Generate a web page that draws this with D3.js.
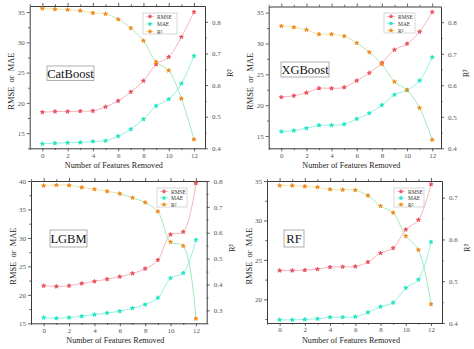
<!DOCTYPE html>
<html><head><meta charset="utf-8">
<script src="https://cdn.jsdelivr.net/npm/d3@7"></script>
<style>
body{margin:0;background:#fff}
svg{display:block}
</style>
</head><body><svg id="c" width="474" height="349"></svg>
<script>
// ---------------- data ----------------
const featuresRemoved = [0,1,2,3,4,5,6,7,8,9,10,11,12];
const xTicks = [0,2,4,6,8,10,12];
const seriesNames = ["RMSE","MAE","R²"];
const modelNames = ["CatBoost","XGBoost","LGBM","RF"];

const catboostRMSE = [18.46,18.57,18.57,18.63,18.68,19.34,20.33,21.81,23.63,26.37,27.58,30.88,35.00];
const catboostMAE  = [13.24,13.35,13.40,13.46,13.63,13.74,14.50,15.66,17.31,19.50,20.60,23.19,27.75];
const catboostR2   = [0.842,0.840,0.838,0.835,0.828,0.825,0.808,0.780,0.740,0.673,0.646,0.557,0.428];

const xgboostRMSE = [21.30,21.52,22.01,22.72,22.72,22.88,23.97,25.22,26.85,28.97,29.95,31.90,35.10];
const xgboostMAE  = [15.71,15.87,16.25,16.74,16.74,16.90,17.77,18.70,20.00,21.68,22.45,23.97,27.77];
const xgboostR2   = [0.788,0.784,0.776,0.762,0.762,0.756,0.734,0.705,0.667,0.611,0.585,0.528,0.427];

const lgbmRMSE = [21.59,21.47,21.59,22.00,22.35,22.76,23.18,23.76,24.59,26.12,30.59,31.06,39.60];
const lgbmMAE  = [16.00,15.88,16.00,16.24,16.53,16.82,17.12,17.65,18.29,19.47,22.94,23.82,29.65];
const lgbmR2   = [0.782,0.784,0.783,0.775,0.768,0.760,0.751,0.735,0.717,0.682,0.564,0.549,0.268];

const rfRMSE = [23.65,23.65,23.70,23.82,24.08,24.12,24.16,24.72,25.86,26.50,28.84,30.07,34.58];
const rfMAE  = [17.40,17.40,17.45,17.53,17.74,17.74,17.79,18.34,19.06,19.57,21.44,22.50,27.27];
const rfR2   = [0.729,0.729,0.727,0.725,0.720,0.719,0.718,0.705,0.680,0.664,0.608,0.575,0.445];

const catboostLeftTicks = [15,20,25,30,35];
const xgboostLeftTicks  = [15,20,25,30,35];
const lgbmLeftTicks     = [15,20,25,30,35,40];
const rfLeftTicks       = [20,25,30,35];
const catboostRightTicks = [0.4,0.5,0.6,0.7,0.8];
const xgboostRightTicks  = [0.4,0.5,0.6,0.7,0.8];
const lgbmRightTicks     = [0.3,0.4,0.5,0.6,0.7,0.8];
const rfRightTicks       = [0.4,0.5,0.6,0.7];

// ---------------- layout / style ----------------
const FONT = "'Liberation Serif', 'Times New Roman', 'DejaVu Serif', serif";
const panels = [
  {name:modelNames[0], rmse:catboostRMSE, mae:catboostMAE, r2:catboostR2, lt:catboostLeftTicks, rt:catboostRightTicks,
   x:29.7, y:6, w:175.3, h:142.3, xd:[-1,12.87], yl:[12.5,36], yr:[0.4,0.85],
   label:{x:47,y:66,w:47,h:14.5}, legend:{x:143,y:13,w:34,h:21}},
  {name:modelNames[1], rmse:xgboostRMSE, mae:xgboostMAE, r2:xgboostR2, lt:xgboostLeftTicks, rt:xgboostRightTicks,
   x:268.7, y:6.5, w:172.3, h:141.8, xd:[-1,12.7], yl:[13,36], yr:[0.4,0.85],
   label:{x:281,y:62,w:48,h:15}, legend:{x:384,y:13,w:31,h:20}},
  {name:modelNames[2], rmse:lgbmRMSE, mae:lgbmMAE, r2:lgbmR2, lt:lgbmLeftTicks, rt:lgbmRightTicks,
   x:31, y:181, w:175.7, h:142.3, xd:[-1,12.85], yl:[15,40], yr:[0.25,0.8],
   label:{x:50,y:230,w:37,h:17}, legend:{x:157,y:188,w:30,h:19}},
  {name:modelNames[3], rmse:rfRMSE, mae:rfMAE, r2:rfR2, lt:rfLeftTicks, rt:rfRightTicks,
   x:267, y:181, w:175, h:142, xd:[-1,12.87], yl:[17,35], yr:[0.4,0.74],
   label:{x:284,y:230,w:20,h:17}, legend:{x:394,y:188,w:30,h:19}}
];

const markerColors = ["#e8505e","#1fe6c3","#f08a1e"];
const lineColors = ["#f7a9b0","#86efdc","#f2d98a"];
const axisColor = "#3a3a3a";
const tickTextColor = "#555";

const svg = d3.select("#c");
const defs = svg.append("defs");

// scale a text's font size so that its rendered width equals the target width
function fitText(sel, baseSize, targetWidth) {
  sel.attr("font-size", baseSize);
  const w = sel.node().getComputedTextLength();
  if (w > 0) sel.attr("font-size", baseSize * targetWidth / w);
  return sel;
}

panels.forEach((p, pi) => {
  const g = svg.append("g").attr("font-family", FONT);
  const x = d3.scaleLinear().domain(p.xd).range([p.x, p.x + p.w]);
  const yL = d3.scaleLinear().domain(p.yl).range([p.y + p.h, p.y]);
  const yR = d3.scaleLinear().domain(p.yr).range([p.y + p.h, p.y]);
  const bottom = p.y + p.h, right = p.x + p.w;

  const gid = "r2grad" + pi;
  const grad = defs.append("linearGradient").attr("id", gid)
    .attr("gradientUnits","userSpaceOnUse")
    .attr("x1", x(0)).attr("x2", x(12)).attr("y1",0).attr("y2",0);
  grad.append("stop").attr("offset","0").attr("stop-color","#f9e08a");
  grad.append("stop").attr("offset","0.4").attr("stop-color","#ede39a");
  grad.append("stop").attr("offset","0.55").attr("stop-color","#a8e8a8");
  grad.append("stop").attr("offset","1").attr("stop-color","#8fe8b0");

  const styleAxis = sel => {
    sel.attr("font-family", FONT);
    sel.selectAll("path").attr("stroke", axisColor).attr("stroke-width", 1);
    sel.selectAll("line").attr("stroke", axisColor).attr("stroke-width", 0.8);
    sel.selectAll("text").attr("fill", tickTextColor).attr("font-size", 7).attr("font-family", FONT);
  };
  const minorX = d3.range(-1, 13, 1).filter(v => v % 2 !== 0 && v >= p.xd[0] && v <= p.xd[1]);

  g.append("g").attr("transform", `translate(0,${bottom})`)
    .call(d3.axisBottom(x).tickValues(xTicks).tickSize(3).tickSizeOuter(0).tickPadding(1.5).tickFormat(d3.format("d")))
    .call(styleAxis);
  g.append("g").attr("transform", `translate(0,${bottom})`)
    .call(d3.axisBottom(x).tickValues(minorX).tickSize(1.7).tickSizeOuter(0).tickFormat(""))
    .call(styleAxis).select("path").remove();
  g.append("g").attr("transform", `translate(0,${p.y})`)
    .call(d3.axisTop(x).tickValues(xTicks).tickSize(3).tickSizeOuter(0).tickFormat(""))
    .call(styleAxis);
  g.append("g").attr("transform", `translate(0,${p.y})`)
    .call(d3.axisTop(x).tickValues(minorX).tickSize(1.7).tickSizeOuter(0).tickFormat(""))
    .call(styleAxis).select("path").remove();
  const minorL = p.lt.map(v => v - 2.5).concat([p.lt[p.lt.length-1] + 2.5]).filter(v => v >= p.yl[0] && v <= p.yl[1]);
  g.append("g").attr("transform", `translate(${p.x},0)`)
    .call(d3.axisLeft(yL).tickValues(p.lt).tickSize(3).tickSizeOuter(0).tickPadding(2).tickFormat(d3.format("d")))
    .call(styleAxis);
  g.append("g").attr("transform", `translate(${p.x},0)`)
    .call(d3.axisLeft(yL).tickValues(minorL).tickSize(1.7).tickSizeOuter(0).tickFormat(""))
    .call(styleAxis).select("path").remove();
  const minorR = p.rt.map(v => v - 0.05).concat([p.rt[p.rt.length-1] + 0.05]).filter(v => v >= p.yr[0] && v <= p.yr[1]);
  g.append("g").attr("transform", `translate(${right},0)`)
    .call(d3.axisRight(yR).tickValues(p.rt).tickSize(3).tickSizeOuter(0).tickPadding(4).tickFormat(d3.format(".1f")))
    .call(styleAxis);
  g.append("g").attr("transform", `translate(${right},0)`)
    .call(d3.axisRight(yR).tickValues(minorR).tickSize(1.7).tickSizeOuter(0).tickFormat(""))
    .call(styleAxis).select("path").remove();

  const series = [
    {vals:p.rmse, y:yL},
    {vals:p.mae, y:yL},
    {vals:p.r2, y:yR}
  ];
  series.forEach((s, si) => {
    const line = d3.line().x((d,i) => x(featuresRemoved[i])).y(d => s.y(d)).curve(d3.curveCatmullRom.alpha(0.5));
    g.append("path").datum(s.vals).attr("d", line).attr("fill","none")
      .attr("stroke", si === 2 ? `url(#${gid})` : lineColors[si]).attr("stroke-width", 0.9);
  });
  series.forEach((s, si) => {
    g.selectAll(null).data(s.vals).enter().append("path")
      .attr("d", d3.symbol().type(d3.symbolStar).size(5))
      .attr("transform", (d,i) => `translate(${x(featuresRemoved[i])},${s.y(d)})`)
      .attr("fill", markerColors[si]).attr("stroke", markerColors[si]).attr("stroke-width", 0.9)
      .attr("stroke-linejoin","round");
  });

  g.append("rect").attr("x", p.label.x).attr("y", p.label.y).attr("width", p.label.w).attr("height", p.label.h)
    .attr("fill","#fff").attr("stroke","#999").attr("stroke-width",0.8);
  g.append("text").attr("x", p.label.x + p.label.w/2).attr("y", p.label.y + p.label.h/2 + 4.3)
    .attr("text-anchor","middle").attr("font-size", 12.5).attr("fill","#111").text(p.name);

  const L = p.legend;
  g.append("rect").attr("x", L.x).attr("y", L.y).attr("width", L.w).attr("height", L.h)
    .attr("fill","#fff").attr("stroke","#bbb").attr("stroke-width",0.6);
  seriesNames.forEach((nm, si) => {
    const ly = L.y + 3.5 + si * (L.h - 6) / 2;
    g.append("line").attr("x1", L.x + 3).attr("x2", L.x + 11).attr("y1", ly).attr("y2", ly)
      .attr("stroke", lineColors[si]).attr("stroke-width", 0.8);
    g.append("path").attr("d", d3.symbol().type(d3.symbolStar).size(4)())
      .attr("transform", `translate(${L.x + 7},${ly})`).attr("fill", markerColors[si])
      .attr("stroke", markerColors[si]).attr("stroke-width", 0.8);
    g.append("text").attr("x", L.x + 14).attr("y", ly + 2).attr("font-size", 5.5).attr("fill","#333").text(nm);
  });

  const xt = g.append("text").attr("x", p.x + p.w/2 - 3.5).attr("y", bottom + 20)
    .attr("text-anchor","middle").attr("fill","#222").text("Number of Features Removed");
  fitText(xt, 8.2, 98);
  const yt = g.append("text").attr("transform", `translate(${p.x - 15.5},${p.y + p.h/2 + 4}) rotate(-90)`)
    .attr("text-anchor","middle").attr("fill","#222").style("white-space","pre")
    .text("RMSE  or  MAE");
  fitText(yt, 8.2, 57);
  g.append("text").attr("transform", `translate(${right + 28},${p.y + p.h/2 - 4}) rotate(-90)`)
    .attr("text-anchor","middle").attr("font-size", 8.2).attr("fill","#222").text("R²");
});
</script>
</body></html>
